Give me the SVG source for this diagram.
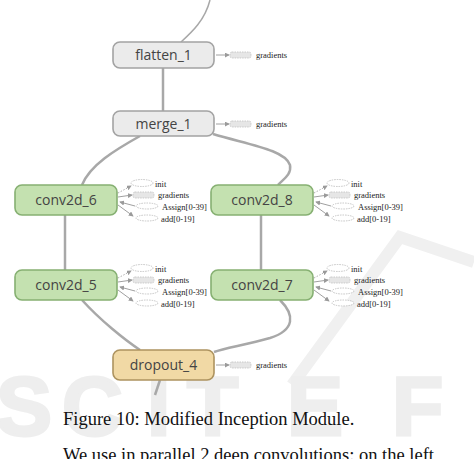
<svg xmlns="http://www.w3.org/2000/svg" width="474" height="459" viewBox="0 0 474 459">
<style>
.wm{font-family:"Liberation Sans",Arial,sans-serif;font-weight:bold;font-size:84px;fill:#eeeeee;stroke:#eeeeee;stroke-width:3}
.edge{fill:none;stroke:#a8a8a8;stroke-width:2.5}
.node{stroke-width:1.6}
.gray{fill:#ebebeb;stroke:#a3a3a3}
.green{fill:#c4e1b0;stroke:#86b072}
.tan{fill:#f1d9a5;stroke:#ad935f}
.lbl{font-family:"Open Sans","DejaVu Sans",sans-serif;font-size:14px;fill:#444;text-anchor:middle}
.sm{font-family:"Liberation Serif","Times New Roman",serif;font-size:8.5px;fill:#222}
.cap{font-family:"Liberation Serif","Times New Roman",serif;font-size:18.5px;fill:#111}
.aux{fill:none;stroke:#a0a0a0;stroke-width:1}
.dot{fill:none;stroke:#b0b0b0;stroke-width:1;stroke-dasharray:1.5 1.5}
.dash{fill:#fff;stroke:#b8b8b8;stroke-width:0.8;stroke-dasharray:1.5 1}
.dashg{fill:#e6e6e6;stroke:#c0c0c0;stroke-width:0.8;stroke-dasharray:1.5 1}
</style>
<defs>
<marker id="ah" viewBox="0 0 6 6" refX="5" refY="3" markerWidth="5" markerHeight="5" orient="auto">
<path d="M0,0 L6,3 L0,6 Z" fill="#9a9a9a"/>
</marker>
<g id="side">
<path class="dot" d="M1,8 L14,1" marker-end="url(#ah)"/>
<ellipse class="dash" cx="25" cy="-2" rx="11" ry="3.5"/>
<path class="aux" d="M1,12 L15,10" marker-end="url(#ah)"/>
<rect class="dashg" x="16" y="7" width="21" height="6" rx="2"/>
<path class="aux" d="M18,21 L3,17" marker-end="url(#ah)"/>
<ellipse class="dash" cx="30" cy="21" rx="11" ry="3"/>
<path class="aux" d="M1,20 L16,31" marker-end="url(#ah)"/>
<ellipse class="dash" cx="30" cy="33" rx="11" ry="3"/>
</g>
<g id="grad">
<path class="aux" d="M0,0 L13,0" marker-end="url(#ah)"/>
<rect class="dashg" x="14" y="-3" width="21" height="6" rx="2"/>
</g>
</defs>
<rect width="474" height="459" fill="#fff"/>
<g id="watermark">
<path d="M474,262 L400,237 L292,385" fill="none" stroke="#f0f0f0" stroke-width="12"/>
<text class="wm" x="-4" y="435">S</text>
<text class="wm" x="62" y="435">C</text>
<text class="wm" x="147" y="435">I</text>
<text class="wm" x="187" y="435">T</text>
<text class="wm" x="287" y="435">E</text>
<text class="wm" x="392" y="435">F</text>
</g>
<g id="connectors">
<path class="edge" d="M210,0 C205,20 192,32 181,42" style="stroke-width:1.5"/>
<path class="edge" d="M163,68 L163,111"/>
<path class="edge" d="M140,136 C115,150 90,165 82,185"/>
<path class="edge" d="M213,134 C250,145 285,150 290,165 C292,175 282,180 278,185"/>
<path class="edge" d="M65,215 V270"/>
<path class="edge" d="M261,215 V270"/>
<path class="edge" d="M82,300 C100,320 125,340 140,350"/>
<path class="edge" d="M280,300 C295,315 295,330 270,338 C245,345 225,348 214,352"/>
<path class="edge" d="M160,380 L155,395"/>
</g>
<g id="flatten_1">
<rect class="node gray" x="113" y="42" width="101" height="26" rx="7"/>
<text class="lbl" x="163.5" y="60">flatten_1</text>
<use href="#grad" x="216" y="55"/>
<text class="sm" x="256" y="58">gradients</text>
</g>
<g id="merge_1">
<rect class="node gray" x="113" y="111" width="101" height="25" rx="7"/>
<text class="lbl" x="163.5" y="128.5">merge_1</text>
<use href="#grad" x="216" y="124"/>
<text class="sm" x="256" y="127">gradients</text>
</g>
<g id="conv2d_6">
<rect class="node green" x="15" y="185" width="102" height="30" rx="7"/>
<text class="lbl" x="66" y="205">conv2d_6</text>
<use href="#side" x="117" y="185"/>
<text class="sm" x="155" y="186.5">init</text>
<text class="sm" x="158" y="197.5">gradients</text>
<text class="sm" x="162" y="209.5">Assign[0-39]</text>
<text class="sm" x="161" y="221.5">add[0-19]</text>
</g>
<g id="conv2d_8">
<rect class="node green" x="211" y="185" width="102" height="30" rx="7"/>
<text class="lbl" x="262" y="205">conv2d_8</text>
<use href="#side" x="313" y="185"/>
<text class="sm" x="351" y="186.5">init</text>
<text class="sm" x="354" y="197.5">gradients</text>
<text class="sm" x="358" y="209.5">Assign[0-39]</text>
<text class="sm" x="357" y="221.5">add[0-19]</text>
</g>
<g id="conv2d_5">
<rect class="node green" x="15" y="270" width="102" height="30" rx="7"/>
<text class="lbl" x="66" y="290">conv2d_5</text>
<use href="#side" x="117" y="270"/>
<text class="sm" x="155" y="271.5">init</text>
<text class="sm" x="158" y="282.5">gradients</text>
<text class="sm" x="162" y="294.5">Assign[0-39]</text>
<text class="sm" x="161" y="306.5">add[0-19]</text>
</g>
<g id="conv2d_7">
<rect class="node green" x="211" y="270" width="102" height="30" rx="7"/>
<text class="lbl" x="262" y="290">conv2d_7</text>
<use href="#side" x="313" y="270"/>
<text class="sm" x="351" y="271.5">init</text>
<text class="sm" x="354" y="282.5">gradients</text>
<text class="sm" x="358" y="294.5">Assign[0-39]</text>
<text class="sm" x="357" y="306.5">add[0-19]</text>
</g>
<g id="dropout_4">
<rect class="node tan" x="113" y="350" width="101" height="30" rx="7"/>
<text class="lbl" x="163.5" y="370">dropout_4</text>
<use href="#grad" x="216" y="365"/>
<text class="sm" x="256" y="368">gradients</text>
</g>
<text class="cap" x="63" y="425">Figure 10: Modified Inception Module.</text>
<text class="cap" x="63" y="461">We use in parallel 2 deep convolutions: on the left</text>
</svg>
